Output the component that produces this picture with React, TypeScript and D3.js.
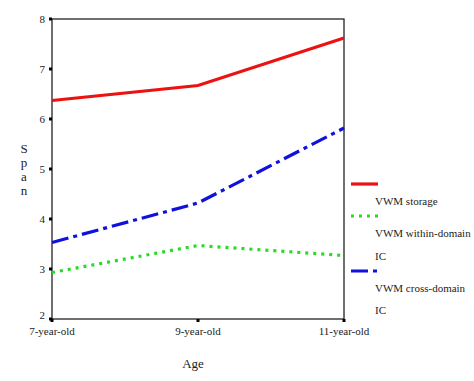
import React from "react";
import * as d3 from "d3";

const ages = ["7-year-old", "9-year-old", "11-year-old"];
const storage = [6.37, 6.67, 7.62];
const withinIC = [2.93, 3.47, 3.27];
const crossIC = [3.53, 4.32, 5.82];
const yTicks = [2, 3, 4, 5, 6, 7, 8];

const W = 474, H = 381;
const m = { left: 52, right: 344, top: 19, bottom: 319 };
const FONT = "'Liberation Serif'";

export default function App() {
  const x = d3.scalePoint<string>().domain(ages).range([m.left, m.right]);
  const y = d3.scaleLinear().domain([2, 8]).range([m.bottom, m.top]);
  const line = d3
    .line<number>()
    .x((_, i) => x(ages[i]) as number)
    .y((d) => y(d));
  const series = [
    { data: storage, color: "#ee1111", dash: undefined as string | undefined },
    { data: withinIC, color: "#22dd22", dash: "3,5" },
    { data: crossIC, color: "#1111dd", dash: "17,5,4,5" },
  ];
  const legend = [
    { color: "#ee1111", dash: undefined as string | undefined, y: 184, labels: [["VWM storage", 205]] },
    { color: "#22dd22", dash: "3,5", y: 216, labels: [["VWM within-domain", 237], ["IC", 260]] },
    { color: "#1111dd", dash: "17,5,4,5", y: 271, labels: [["VWM cross-domain", 292], ["IC", 314]] },
  ];
  return (
    <svg width={W} height={H} style={{ position: "absolute", left: 0, top: 0, background: "#fff" }}>
      <rect x={m.left} y={m.top} width={m.right - m.left} height={m.bottom - m.top} fill="none" stroke="#222" strokeWidth={1.3} />
      {yTicks.map((t) => (
        <g key={t}>
          <rect x={m.left - 3} y={y(t) - 1.5} width={3} height={3} fill="#000" />
          <text x={m.left - 7} y={y(t) + 4 - (t === 2 ? 4 : 0)} fontSize={11} textAnchor="end" fill="#222" fontFamily={FONT}>{t}</text>
        </g>
      ))}
      {ages.map((a) => (
        <g key={a}>
          <rect x={(x(a) as number) - 1.5} y={m.bottom} width={3} height={3} fill="#000" />
          <text x={x(a) as number} y={m.bottom + 16} fontSize={11} textAnchor="middle" fill="#222" fontFamily={FONT}>{a}</text>
        </g>
      ))}
      <text x={193} y={368} fontSize={13} textAnchor="middle" fill="#222" fontFamily={FONT}>Age</text>
      {["S", "p", "a", "n"].map((c, i) => (
        <text key={i} x={24} y={153 + i * 14} fontSize={13} textAnchor="middle" fill="#222" fontFamily={FONT}>{c}</text>
      ))}
      {series.map((s, i) => (
        <path key={i} d={line(s.data) as string} fill="none" stroke={s.color} strokeWidth={3.2} strokeDasharray={s.dash} />
      ))}
      {legend.map((l, i) => (
        <g key={i}>
          <line x1={351} x2={378} y1={l.y} y2={l.y} stroke={l.color} strokeWidth={3.2} strokeDasharray={l.dash} />
          {l.labels.map(([t, yy]) => (
            <text key={t as string} x={375} y={yy as number} fontSize={11} fill="#222" fontFamily={FONT}>{t}</text>
          ))}
        </g>
      ))}
    </svg>
  );
}
